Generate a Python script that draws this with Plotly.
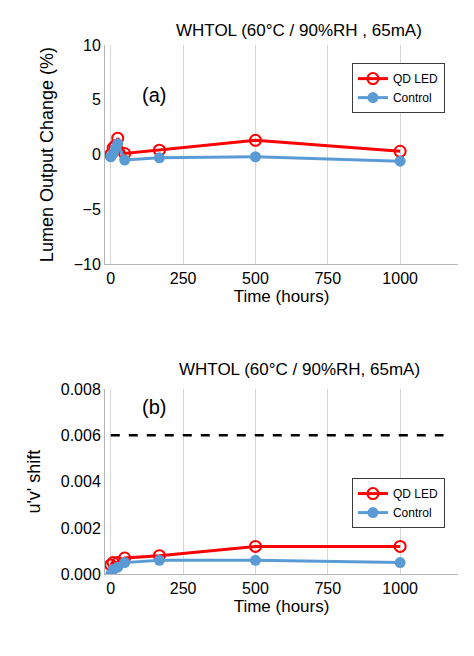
import plotly.graph_objects as go
from plotly.subplots import make_subplots

# time points (hours)
hours = [0, 8, 15, 24, 48, 168, 500, 1000]

# (a) lumen output change (%)
qd_lumen = [0.0, 0.6, 0.8, 1.5, 0.1, 0.4, 1.3, 0.3]
ctrl_lumen = [-0.2, 0.1, 0.5, 1.0, -0.5, -0.3, -0.2, -0.6]

# (b) u'v' shift
hours_b = [0, 8, 24, 48, 168, 500, 1000]
qd_shift = [0.0004, 0.0005, 0.0005, 0.0007, 0.0008, 0.0012, 0.0012]
ctrl_shift = [0.0000, 0.0002, 0.0003, 0.0005, 0.0006, 0.0006, 0.0005]

limit_x = [0, 1150]
limit_y = [0.006, 0.006]

RED = "rgb(255,0,0)"
BLUE = "rgb(91,155,213)"
FONT = "Liberation Sans, Arial, sans-serif"

fig = make_subplots(rows=2, cols=1)

def add_pair(x, yq, yc, row):
    leg = "legend" if row == 1 else "legend2"
    fig.add_trace(go.Scatter(x=x, y=yq, name="QD LED", mode="lines+markers",
        line=dict(color=RED, width=3),
        marker=dict(symbol="circle-open", size=11, color=RED, line=dict(width=2)),
        legend=leg), row=row, col=1)
    fig.add_trace(go.Scatter(x=x, y=yc, name="Control", mode="lines+markers",
        line=dict(color=BLUE, width=3),
        marker=dict(symbol="circle", size=11, color=BLUE),
        legend=leg), row=row, col=1)

add_pair(hours, qd_lumen, ctrl_lumen, 1)
add_pair(hours_b, qd_shift, ctrl_shift, 2)

fig.add_trace(go.Scatter(x=limit_x, y=limit_y, mode="lines", showlegend=False,
    line=dict(color="black", width=2.5, dash="dash")), row=2, col=1)

for r in (1, 2):
    fig.update_xaxes(row=r, col=1, range=[-20, 1200], tickvals=[0, 250, 500, 750, 1000],
        showgrid=True, gridcolor="rgb(215,215,215)", zeroline=False,
        showline=True, linecolor="rgb(180,180,180)", ticks="",
        title=dict(text="Time (hours)", font=dict(size=17), standoff=2),
        tickfont=dict(size=16))
fig.update_yaxes(row=1, col=1, domain=[0.586, 0.987], range=[-10, 10],
    tickvals=[-10, -5, 0, 5, 10],
    showgrid=False, zeroline=False, showline=True, linecolor="rgb(180,180,180)",
    title=dict(text="Lumen Output Change (%)", font=dict(size=18)), tickfont=dict(size=16))
fig.update_yaxes(row=2, col=1, domain=[0.018, 0.357], range=[0, 0.008],
    tickvals=[0, 0.002, 0.004, 0.006, 0.008],
    tickformat=".3f", showgrid=False, zeroline=False, showline=True,
    linecolor="rgb(180,180,180)",
    title=dict(text="u'v' shift", font=dict(size=18)), tickfont=dict(size=16))

fig.update_layout(
    width=474, height=656, margin=dict(l=97, r=24, t=30, b=80),
    plot_bgcolor="white", paper_bgcolor="white",
    font=dict(family=FONT, color="black"),
    legend=dict(x=0.963, y=0.954, xanchor="right", yanchor="top",
        bordercolor="rgb(60,60,60)", borderwidth=1, font=dict(size=12)),
    legend2=dict(x=0.963, y=0.194, xanchor="right", yanchor="top",
        bordercolor="rgb(60,60,60)", borderwidth=1, font=dict(size=12)),
    annotations=[
        dict(text="WHTOL (60\u00b0C / 90%RH , 65mA)", x=0.55, y=0.987, xref="paper", yref="paper",
             yanchor="bottom", yshift=3, showarrow=False, font=dict(size=17)),
        dict(text="WHTOL (60\u00b0C / 90%RH, 65mA)", x=0.55, y=0.357, xref="paper", yref="paper",
             yanchor="bottom", yshift=8, showarrow=False, font=dict(size=17)),
        dict(text="(a)", x=0.1, y=0.92, xref="paper", yref="paper", showarrow=False,
             font=dict(size=20)),
        dict(text="(b)", x=0.1, y=0.3, xref="paper", yref="paper", showarrow=False,
             font=dict(size=20)),
    ],
)

fig.write_html("out.html")
